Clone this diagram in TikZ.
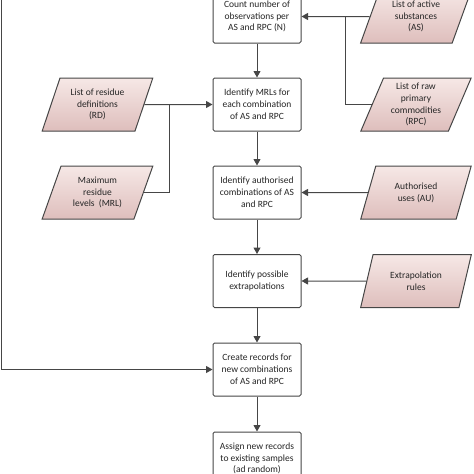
\documentclass[tikz,border=0pt]{standalone}
\usepackage{fontspec}
\setmainfont{Carlito}
\usetikzlibrary{shapes.geometric,arrows.meta}

\definecolor{linegray}{RGB}{70,70,70}
\definecolor{parlight}{RGB}{246,232,230}
\definecolor{pardark}{RGB}{222,190,188}

\tikzset{
	stepbox/.style={draw=linegray, line width=1pt, rounded corners=1.5pt, fill=white,
		minimum width=88pt, minimum height=53pt, inner sep=1pt, align=center,
		text=black!85, font=\fontsize{9.5}{11.8}\selectfont},
	inputbox/.style={trapezium, trapezium left angle=68, trapezium right angle=112,
		trapezium stretches=true, draw=linegray, line width=1pt,
		top color=parlight, bottom color=pardark,
		minimum width=111pt, minimum height=53pt, inner sep=0pt, align=center,
		text=black!85, font=\fontsize{9.5}{11.8}\selectfont},
	link/.style={draw=linegray, line width=1pt},
	flow/.style={link, -{Triangle[length=6.5pt,width=7pt]}}
}

\begin{document}
\begin{tikzpicture}[x=1pt,y=-1pt]
	\useasboundingbox (0,0) rectangle (474,474);

	% main steps
	\node[stepbox] (count)  at (257,16.5)  {Count number of\\observations per\\AS and RPC (N)};
	\node[stepbox] (mrls)   at (257,104.5) {Identify MRLs for\\each combination\\of AS and RPC};
	\node[stepbox] (auth)   at (257,192.5) {Identify authorised\\combinations of AS\\and RPC};
	\node[stepbox] (extrap) at (257,281)   {Identify possible\\extrapolations};
	\node[stepbox] (create) at (257,369.5) {Create records for\\new combinations\\of AS and RPC};
	\node[stepbox] (assign) at (257,458.5) {Assign new records\\to existing samples\\(ad random)};

	% inputs
	\node[inputbox] (as)    at (416,16.5)  {List of active\\substances\\(AS)};
	\node[inputbox] (rpc)   at (416,104.5) {List of raw\\primary\\commodities\\(RPC)};
	\node[inputbox] (au)    at (416,192.5) {Authorised\\uses (AU)};
	\node[inputbox] (rules) at (416,281)   {Extrapolation\\rules};
	\node[inputbox] (rd)    at (97.5,104.5) {List of residue\\definitions\\(RD)};
	\node[inputbox] (mrl)   at (97.5,192.5) {Maximum\\residue\\levels~~(MRL)};

	\coordinate (jr) at (345,16.5);
	\coordinate (jl) at (169,104.5);
	\coordinate (loop) at (1.5,-5);

	\draw[flow] (count) -- (mrls);
	\draw[flow] (mrls) -- (auth);
	\draw[flow] (auth) -- (extrap);
	\draw[flow] (extrap) -- (create);
	\draw[flow] (create) -- (assign);

	\draw[flow] (as.west) -- (count.east);
	\draw[link] (rpc.west) -| (jr);
	\draw[flow] (rd.east) -- (mrls.west);
	\draw[link] (mrl.east) -| (jl);
	\draw[flow] (au.west) -- (auth.east);
	\draw[flow] (rules.west) -- (extrap.east);

	\draw[flow] (loop) |- (create.west);
\end{tikzpicture}
\end{document}
